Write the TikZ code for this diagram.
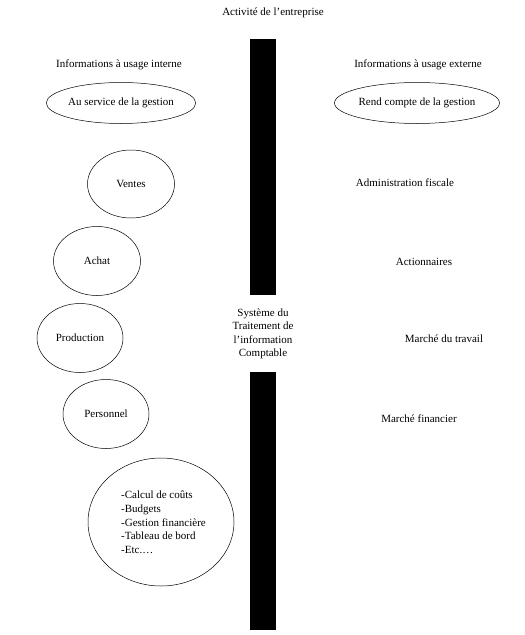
\documentclass[tikz,border=0pt]{standalone}
\usepackage{fontspec}
\setmainfont{Liberation Serif}
\usetikzlibrary{shapes.geometric}
\begin{document}
\begin{tikzpicture}[x=1pt,y=-1pt,
  lbl/.style={font=\fontsize{11}{13.5}\selectfont, inner sep=0pt},
  oval/.style={draw, ellipse, line width=0.5pt, inner sep=0pt, font=\fontsize{11}{12.5}\selectfont}]
\useasboundingbox (0,0) rectangle (525,635);
\fill[white] (0,0) rectangle (525,635);
\node[lbl] (title) at (273,13) {Activité de l’entreprise};
\node[lbl] (intl) at (119,65) {Informations à usage interne};
\node[lbl] (extl) at (418,65) {Informations à usage externe};
\node[oval, minimum width=138pt, minimum height=41pt] (serv) at (121,103) {Au service de la gestion};
\node[oval, minimum width=148pt, minimum height=41pt] (rend) at (417,103) {Rend compte de la gestion};
\node[oval, minimum width=87pt, minimum height=68pt] (ventes) at (131,184) {Ventes};
\node[oval, minimum width=87pt, minimum height=69pt] (achat) at (97,261) {Achat};
\node[oval, minimum width=86pt, minimum height=69pt] (prod) at (80,338) {Production};
\node[oval, minimum width=86pt, minimum height=69pt] (pers) at (106,414) {Personnel};
\node[oval, minimum width=146pt, minimum height=128pt] (big) at (161,522) {};
\node[lbl, align=left, anchor=north west, font=\fontsize{11}{13.7}\selectfont] (list) at (121,491) {-Calcul de coûts\\-Budgets\\-Gestion financière\\-Tableau de bord\\-Etc.…};
\fill[black] (250,39) rectangle (276,295);
\fill[black] (250,372) rectangle (276,630);
\node[lbl, align=center] (sys) at (263,334) {Système du\\Traitement de\\l’information\\Comptable};
\node[lbl] (adm) at (405,183) {Administration fiscale};
\node[lbl] (act) at (424,262) {Actionnaires};
\node[lbl] (trav) at (444,339) {Marché du travail};
\node[lbl] (fin) at (419,419) {Marché financier};
\end{tikzpicture}
\end{document}
